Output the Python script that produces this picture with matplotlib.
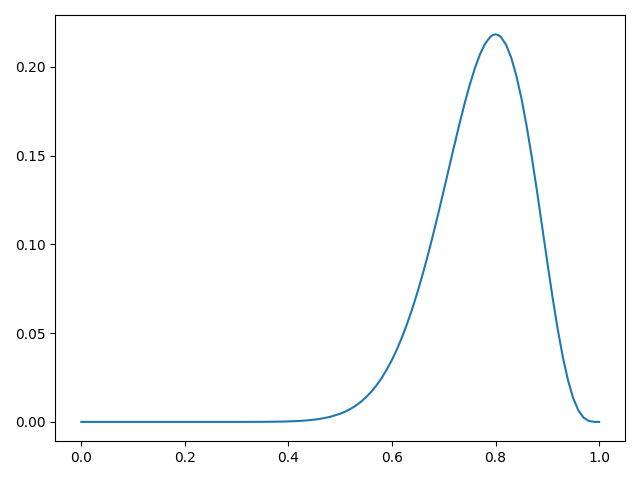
import matplotlib
matplotlib.use("Agg")
import matplotlib.pyplot as plt

# probability values
x = [0.00, 0.10, 0.20, 0.30, 0.35, 0.38, 0.40, 0.42, 0.44, 0.46, 0.48, 0.50,
     0.51, 0.52, 0.53, 0.54, 0.55, 0.56, 0.57, 0.58, 0.59, 0.60,
     0.61, 0.62, 0.63, 0.64, 0.65, 0.66, 0.67, 0.68, 0.69, 0.70,
     0.71, 0.72, 0.73, 0.74, 0.75, 0.76, 0.77, 0.78, 0.79, 0.795, 0.80,
     0.805, 0.81, 0.82, 0.83, 0.84, 0.85, 0.86, 0.87, 0.88, 0.89, 0.90,
     0.91, 0.92, 0.93, 0.94, 0.95, 0.96, 0.97, 0.98, 0.99, 1.00]
y = [0.0, 0.0, 0.0, 0.000005, 0.000044, 0.000135, 0.00027, 0.000514, 0.000941, 0.001657, 0.00281, 0.00462,
     0.005851, 0.00735, 0.009163, 0.01134, 0.01393, 0.01699, 0.02057, 0.02472, 0.02952, 0.03498,
     0.04118, 0.04816, 0.05592, 0.06447, 0.07382, 0.08393, 0.09475, 0.10617, 0.11812, 0.13043,
     0.14290, 0.15533, 0.16745, 0.17900, 0.18969, 0.19913, 0.20705, 0.21306, 0.21688, 0.21786, 0.21820,
     0.21785, 0.21682, 0.21252, 0.20528, 0.19512, 0.18213, 0.16663, 0.14905, 0.12994, 0.10992, 0.08978,
     0.07029, 0.05227, 0.03642, 0.02333, 0.01333, 0.00645, 0.00241, 0.000561, 0.000041, 0.0]

fig, ax = plt.subplots(figsize=(6.4, 4.8), dpi=100)
ax.plot(x, y, color="#1f77b4")
fig.tight_layout()
fig.savefig("out.png")
